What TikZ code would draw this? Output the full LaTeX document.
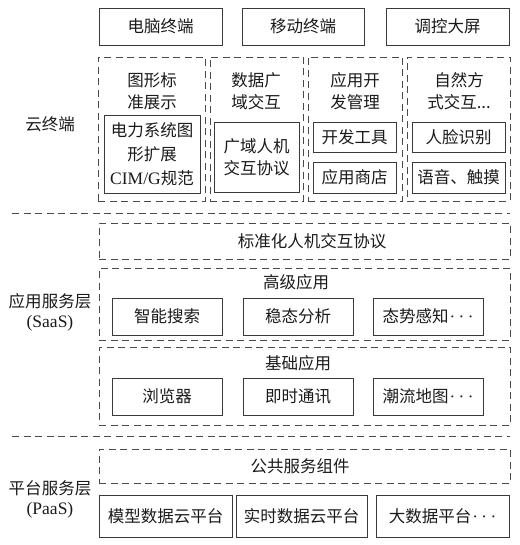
\documentclass[tikz,border=0pt]{standalone}
\usepackage{fontspec}
\setmainfont{Liberation Serif}
\newfontfamily\cjk{Noto Sans CJK SC}
\newfontfamily\lat{Liberation Serif}
\newcommand{\mdots}{{\lat\fontsize{17}{20}\selectfont\hspace{1pt}·\hspace{3.5pt}·\hspace{3.5pt}·}}
\definecolor{linec}{HTML}{3A3A3A}
\definecolor{dashc}{HTML}{4A4A4A}
\definecolor{txtc}{HTML}{1A1A1A}
\tikzset{
  base/.style={rectangle, inner sep=0pt, outer sep=0pt, align=center, text=txtc,
    font=\cjk\fontsize{16.5}{22}\selectfont},
  sbox/.style={base, draw=linec, line width=0.9pt},
  dbox/.style={base, draw=dashc, line width=0.9pt, dash pattern=on 7pt off 4.5pt},
  ttl/.style={base},
  sepline/.style={draw=dashc, line width=0.9pt, dash pattern=on 7pt off 4.5pt},
  lbl/.style={base, font=\cjk\fontsize{16.5}{20}\selectfont}
}
\begin{document}
\begin{tikzpicture}[x=1pt,y=-1pt]
\useasboundingbox (0,0) rectangle (519,545);
% top terminals
\node[sbox, minimum width=123, minimum height=37] (pc) at (160.5,26.5) {电脑终端};
\node[sbox, minimum width=122, minimum height=37] (mob) at (303,26.5) {移动终端};
\node[sbox, minimum width=123, minimum height=37] (scr) at (447.5,26.5) {调控大屏};
% cloud terminal groups
\node[dbox, minimum width=107, minimum height=144] (g1) at (151.5,129) {};
\node[dbox, minimum width=93, minimum height=144] (g2) at (256.5,129) {};
\node[dbox, minimum width=94, minimum height=144] (g3) at (355,129) {};
\node[dbox, minimum width=103, minimum height=144] (g4) at (458.5,129) {};
\node[ttl] (t1) at (152,91) {图形标\\准展示};
\node[ttl] (t2) at (256,91) {数据广\\域交互};
\node[ttl] (t3) at (355,91) {应用开\\发管理};
\node[ttl] (t4) at (459,91) {自然方\\式交互...};
\node[sbox, minimum width=96, minimum height=78, font=\cjk\fontsize{16.5}{24}\selectfont] (b1) at (152,154) {电力系统图\\形扩展\\{\lat\fontsize{17.5}{24}\selectfont CIM/G}规范};
\node[sbox, minimum width=85, minimum height=70] (b2) at (256.5,157) {广域人机\\交互协议};
\node[sbox, minimum width=83, minimum height=30] (b3) at (354.5,137) {开发工具};
\node[sbox, minimum width=83, minimum height=31] (b4) at (354.5,177.5) {应用商店};
\node[sbox, minimum width=93, minimum height=30] (b5) at (458.5,137) {人脸识别};
\node[sbox, minimum width=93, minimum height=31] (b6) at (458.5,177.5) {语音、触摸};
\node[lbl] (lcloud) at (50,124) {云终端};
% separator 1
\coordinate (s1l) at (12,213);
\coordinate (s1r) at (510,213);
\draw[sepline] (s1l) -- (s1r);
% SaaS
\node[dbox, minimum width=411, minimum height=36] (proto) at (304.5,241) {};
\node[ttl] (protot) at (312,241) {标准化人机交互协议};
\node[dbox, minimum width=411, minimum height=72] (adv) at (304.5,304) {};
\node[ttl] (advt) at (296,282) {高级应用};
\node[sbox, minimum width=110, minimum height=37] (a1) at (167,316.5) {智能搜索};
\node[sbox, minimum width=110, minimum height=37] (a2) at (298,316.5) {稳态分析};
\node[sbox, minimum width=110, minimum height=37] (a3) at (428,316.5) {态势感知\mdots};
\node[dbox, minimum width=411, minimum height=78] (basic) at (304.5,386) {};
\node[ttl] (basict) at (298,363) {基础应用};
\node[sbox, minimum width=110, minimum height=37] (c1) at (167,396.5) {浏览器};
\node[sbox, minimum width=110, minimum height=37] (c2) at (298,396.5) {即时通讯};
\node[sbox, minimum width=110, minimum height=37] (c3) at (428,396.5) {潮流地图\mdots};
\node[lbl] (lsaas) at (50,312.5) {应用服务层\\{\lat\fontsize{17.5}{20}\selectfont (SaaS)}};
% separator 2
\coordinate (s2l) at (12,436);
\coordinate (s2r) at (510,436);
\draw[sepline] (s2l) -- (s2r);
% PaaS
\node[dbox, minimum width=411, minimum height=34] (common) at (304.5,466) {};
\node[ttl] (commont) at (300,466) {公共服务组件};
\node[sbox, minimum width=133, minimum height=42] (p1) at (165.5,516) {模型数据云平台};
\node[sbox, minimum width=131, minimum height=42] (p2) at (301.5,516) {实时数据云平台};
\node[sbox, minimum width=133, minimum height=42] (p3) at (442.5,516) {大数据平台\mdots};
\node[lbl] (lpaas) at (50,499) {平台服务层\\{\lat\fontsize{17.5}{20}\selectfont (PaaS)}};
\end{tikzpicture}
\end{document}
